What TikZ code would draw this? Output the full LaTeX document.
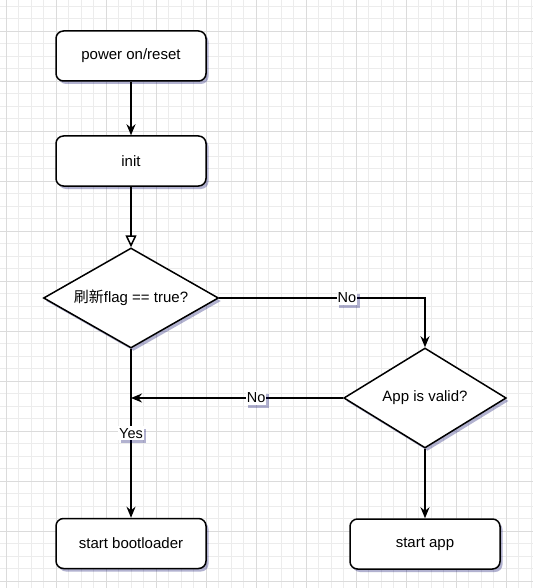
\documentclass[tikz,border=0pt]{standalone}
\usepackage{fontspec}
\setmainfont{Liberation Sans}
\newfontfamily\cjk{Noto Sans CJK SC}
\usetikzlibrary{shapes.geometric,arrows.meta,shadows}

\tikzset{
  boxshadow/.style={drop shadow={shadow xshift=2.5pt,shadow yshift=-3pt,opacity=0.3,fill=black!60!blue}},
  gridminor/.style={draw=gray!15,line width=0.6pt},
  gridmajor/.style={draw=gray!28,line width=0.6pt}
}

\begin{document}
\begin{tikzpicture}[x=1pt,y=1pt,>={Stealth[length=11pt,width=9pt,inset=3.5pt]},line width=1.5pt,node distance=105pt,
    stepbox/.style={rectangle,rounded corners=7.5pt,draw,fill=white,minimum width=150pt,minimum height=50pt,font=\fontsize{15}{18}\selectfont,boxshadow},
    decision/.style={diamond,aspect=1.75,inner sep=0pt,draw,fill=white,font=\fontsize{15}{18}\selectfont,boxshadow},
    lbl/.style={fill=white,inner xsep=1pt,inner ysep=2pt,font=\fontsize{14.5}{17}\selectfont,boxshadow}]

            % background and grid
            \fill[white] (0,0) rectangle (533,-588);
            \useasboundingbox (0,0) rectangle (533,-588);
            \begin{scope}[xshift=6pt,yshift=-6pt]
                \draw[gridminor] (-6,6) grid[step=12.5] (527,-582);
            \end{scope}
            \begin{scope}[xshift=6pt,yshift=-31pt]
                \draw[gridmajor] (-6,31) grid[step=50] (527,-557);
            \end{scope}

            \node[stepbox] (power) at (131,-56) {power on/reset};
            \node[stepbox] (init) [below of = power] {init};
            \node[decision,minimum width=175pt,minimum height=100pt] (flag) [below of = init, yshift = -32pt] {{\cjk 刷新}flag == true?};
            \node[stepbox] (boot) [below of = flag, yshift = -140.5pt] {start bootloader};

            \node[decision,minimum width=162.5pt,minimum height=100pt] (valid) [right of = flag, xshift = 189pt, yshift = -100pt] {App is valid?};
            \node[stepbox] (app) [below of = valid, yshift = -41pt] {start app};

            \draw[->] (power) -- (init);
            \draw[-{Triangle[open,length=12pt,width=11pt,fill=white]}] (init) -- (flag);
            \draw[->] (flag.east) -| node[lbl, pos = 0.31] {No} (valid.north);
            \draw[->] (valid.west) -- node[lbl, pos = 0.41] {No} (flag |- valid.west);
            \draw[->] (flag) -- node[lbl] {Yes} (boot);
            \draw[->] (valid) -- (app);
\end{tikzpicture}
\end{document}
